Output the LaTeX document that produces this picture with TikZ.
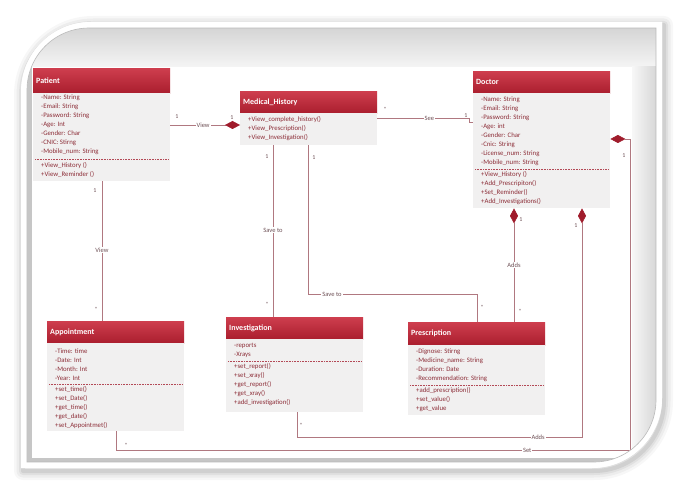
\documentclass[tikz,border=0pt]{standalone}
\usepackage{fontspec}
\setmainfont{Carlito}
\usetikzlibrary{arrows.meta,calc}
\definecolor{hdrTop}{RGB}{206,62,78}
\definecolor{hdrBot}{RGB}{170,30,46}
\definecolor{bodyFill}{RGB}{241,240,240}
\definecolor{txtRed}{RGB}{140,45,55}
\definecolor{lineRed}{RGB}{176,120,128}
\definecolor{dkRed}{RGB}{160,28,44}
\definecolor{lblGray}{RGB}{110,80,85}
\tikzset{dia/.tip={Diamond[length=15pt,width=8pt,fill=dkRed,color=dkRed]}}
\begin{document}
\begin{tikzpicture}[x=1pt,y=-1pt,
  hdr/.style={top color=hdrTop, bottom color=hdrBot, text=white, font=\fontsize{8}{9}\selectfont\bfseries, anchor=north west, inner xsep=3pt, inner ysep=0pt, text width=131pt, align=left, minimum height=22pt},
  body/.style={fill=bodyFill, anchor=north west, minimum width=137pt, inner sep=0pt},
  txt/.style={anchor=base west, inner sep=0pt, text=txtRed, font=\fontsize{6.8}{8}\selectfont},
  sepl/.style={draw=dkRed!80, line width=0.4pt, dash pattern=on 1pt off 0.6pt},
  conn/.style={draw=lineRed, line width=0.6pt},
  lbl/.style={fill=white, inner sep=1pt, text=lblGray, font=\fontsize{6.5}{7}\selectfont},
  mult/.style={inner sep=0pt, text=lblGray, font=\fontsize{6}{6}\selectfont}
]
\fill[white] (0,0) rectangle (680,489);
\useasboundingbox (0,0) rectangle (680,489);
% shadow
\foreach \w/\o in {18/0.03,13/0.04,8/0.05,4/0.07}
  \draw[line width=\w pt, black, opacity=\o, line join=round, shift={(2,3)}]
    (21,468) -- (21,92) .. controls (21,53.4) and (52.4,22) .. (91,22) -- (662,22) -- (662,398) .. controls (662,436.6) and (630.6,468) .. (592,468) -- cycle;
\fill[white] (21,468) -- (21,92) .. controls (21,53.4) and (52.4,22) .. (91,22) -- (662,22) -- (662,398) .. controls (662,436.6) and (630.6,468) .. (592,468) -- cycle;
% inner bevel
\begin{scope}
\clip (27,462) -- (27,90) .. controls (27,55.8) and (54.8,28) .. (89,28) -- (656,28) -- (656,400) .. controls (656,434.2) and (628.2,462) .. (594,462) -- cycle;
\fill[gray!45] (20,20) rectangle (665,470);
\shade[top color=gray!38, bottom color=gray!8] (20,20) rectangle (665,67);
\shade[left color=gray!6, right color=gray!32] (632,67) rectangle (657,470);
\fill[white] (32,67) rectangle (632,458);

% ---------- classes ----------
% Patient
\node[hdr, minimum height=25pt] (patH) at (33,68) {Patient};
\node[body, minimum height=88pt] (patB) at (33,93) {};
\foreach \t [count=\i] in {-Name: String,-Email: String,-Password: String,-Age: Int,-Gender: Char,-CNIC: Stirng,-Mobile\_num: String}
  \node[txt] (patA\i) at (41,{91+9*\i}) {\t};
\draw[sepl] ($(patB.north west)+(2,66)$) -- ($(patB.north east)+(-2,66)$);
\foreach \t [count=\i] in {+View\_History (),+View\_Reminder ()}
  \node[txt] (patM\i) at (41,{159+9*\i}) {\t};

% Medical_History
\node[hdr] (mhH) at (240,91) {Medical\_History};
\node[body, minimum height=32pt] (mhB) at (240,113) {};
\foreach \t [count=\i] in {+View\_complete\_history(),+View\_Prescription(),+View\_Investigation()}
  \node[txt] (mhM\i) at (248,{113+9*\i}) {\t};

% Doctor
\node[hdr] (docH) at (473,71) {Doctor};
\node[body, minimum height=115pt] (docB) at (473,93) {};
\foreach \t [count=\i] in {-Name: String,-Email: String,-Password: String,-Age: int,-Gender: Char,-Cnic: String,-License\_num: String,-Mobile\_num: String}
  \node[txt] (docA\i) at (481,{93+9*\i}) {\t};
\draw[sepl] ($(docB.north west)+(2,76)$) -- ($(docB.north east)+(-2,76)$);
\foreach \t [count=\i] in {+View\_History (),+Add\_Prescripiton(),+Set\_Reminder(),+Add\_Investigations()}
  \node[txt] (docM\i) at (481,{168+9*\i}) {\t};

% Appointment
\node[hdr] (appH) at (47,321) {Appointment};
\node[body, minimum height=88pt] (appB) at (47,343) {};
\foreach \t [count=\i] in {-Time: time,-Date: Int,-Month: Int,-Year: Int}
  \node[txt] (appA\i) at (55,{344+9*\i}) {\t};
\draw[sepl] ($(appB.north west)+(2,41)$) -- ($(appB.north east)+(-2,41)$);
\foreach \t [count=\i] in {+set\_time(),+set\_Date(),+get\_time(),+get\_date(),+set\_Appointmet()}
  \node[txt] (appM\i) at (55,{382+9*\i}) {\t};

% Investigation
\node[hdr] (invH) at (226,317) {Investigation};
\node[body, minimum height=73pt] (invB) at (226,339) {};
\foreach \t [count=\i] in {-reports,-Xrays}
  \node[txt] (invA\i) at (234,{338+9*\i}) {\t};
\draw[sepl] ($(invB.north west)+(2,22)$) -- ($(invB.north east)+(-2,22)$);
\foreach \t [count=\i] in {+set\_report(),+set\_xray(),+get\_report(),+get\_xray(),+add\_investigation()}
  \node[txt] (invM\i) at (234,{359+9*\i}) {\t};

% Prescription
\node[hdr, minimum height=23pt] (preH) at (408,322) {Prescription};
\node[body, minimum height=70pt] (preB) at (408,345) {};
\foreach \t [count=\i] in {-Dignose: Stirng,-Medicine\_name: String,-Duration: Date,-Recommendation: String}
  \node[txt] (preA\i) at (416,{344+9*\i}) {\t};
\draw[sepl] ($(preB.north west)+(2,40)$) -- ($(preB.north east)+(-2,40)$);
\foreach \t [count=\i] in {+add\_prescription(),+set\_value(),+get\_value}
  \node[txt] (preM\i) at (416,{383+9*\i}) {\t};

% ---------- connectors ----------
% Patient - Medical_History (View)
\draw[conn, -dia] ($(patB.north east)+(0,32)$) -- ($(mhB.north west)+(0,12)$)
  node[lbl, pos=0.47] (lView1) {View};
\node[mult] (m1a) at (177,117) {1};
\node[mult] (m1b) at (232,118) {1};
% Medical_History - Doctor (See)
\draw[conn] ($(mhB.north east)+(0,5)$) -- node[lbl, pos=0.565] (lSee) {See} ++(92,0) -- ++(0,4) -- ($(docB.north west)+(0,29)$);
\node[mult] (m2a) at (385,109) {*};
\node[mult] (m2b) at (466,116) {1};
% Medical_History - Investigation (Save to)
\draw[conn] ($(mhB.south west)+(33,0)$) -- ($(invH.north west)+(47,0)$)
  node[lbl, pos=0.494] (lSave1) {Save to};
\node[mult] (m3a) at (267,157) {1};
\node[mult] (m3b) at (267,304) {*};
% Medical_History - Prescription (Save to)
\draw[conn] ($(mhB.south west)+(68,0)$) -- ++(0,149) -- node[lbl, pos=0.142] (lSave2) {Save to} ++(169,0) -- ($(preH.north west)+(69,0)$);
\node[mult] (m4a) at (314,158) {1};
\node[mult] (m4b) at (482,307) {*};
% Doctor - Prescription (Adds)
\draw[conn, dia-] ($(docB.south west)+(41,0)$) -- ($(preH.north west)+(106,0)$)
  node[lbl, pos=0.5] (lAdds1) {Adds};
\node[mult] (m5a) at (521,220) {1};
\node[mult] (m5b) at (520,311) {*};
% Investigation - Doctor (Adds)
\draw[conn, -dia] ($(invB.south west)+(71,0)$) -- ++(0,25) -- node[lbl, pos=0.846] (lAdds2) {Adds} ++(285,0) -- ($(docB.south west)+(109,0)$);
\node[mult] (m6a) at (301,425) {*};
\node[mult] (m6b) at (576,226) {1};
% Appointment - Doctor (Set)
\draw[conn, -dia] ($(appB.south west)+(69,0)$) -- ++(0,19) -- node[lbl, pos=0.80] (lSet) {Set} ++(514,0) |- ($(docB.north east)+(0,46)$);
\node[mult] (m7a) at (126,445) {*};
\node[mult] (m7b) at (624,156) {1};
% Patient - Appointment (View)
\draw[conn] ($(patB.south west)+(69,0)$) -- ($(appH.north west)+(55,0)$)
  node[lbl, pos=0.49] (lView2) {View};
\node[mult] (m8a) at (95,191) {1};
\node[mult] (m8b) at (96,309) {*};
\end{scope}

% frame ring on top
\fill[white, even odd rule]
  (21,468) -- (21,92) .. controls (21,53.4) and (52.4,22) .. (91,22) -- (662,22) -- (662,398) .. controls (662,436.6) and (630.6,468) .. (592,468) -- cycle
  (27,462) -- (27,90) .. controls (27,55.8) and (54.8,28) .. (89,28) -- (656,28) -- (656,400) .. controls (656,434.2) and (628.2,462) .. (594,462) -- cycle;
\draw[gray!55, line width=0.6pt]
  (27,462) -- (27,90) .. controls (27,55.8) and (54.8,28) .. (89,28) -- (656,28) -- (656,400) .. controls (656,434.2) and (628.2,462) .. (594,462) -- cycle;
\end{tikzpicture}
\end{document}
